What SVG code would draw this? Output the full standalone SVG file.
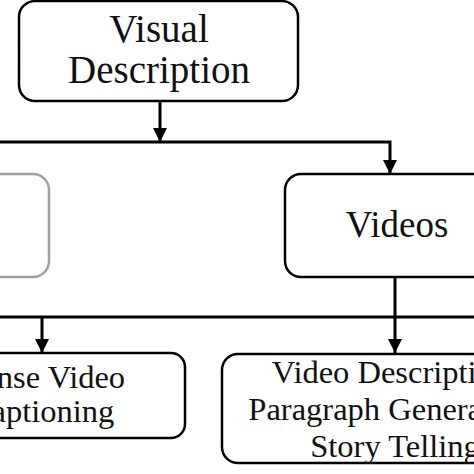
<svg xmlns="http://www.w3.org/2000/svg" width="474" height="474" viewBox="0 0 474 474">
<style>
.box{fill:#fff;stroke:#000;stroke-width:2.5}
.gray{fill:#fff;stroke:#a0a0a0;stroke-width:2.5}
.t{font-family:"Liberation Serif","Times New Roman",serif;fill:#111;text-anchor:middle}
.ln{fill:none;stroke:#000;stroke-width:3}
</style>
<defs>
<marker id="ah" markerUnits="userSpaceOnUse" markerWidth="16" markerHeight="16" refX="14" refY="7" orient="auto">
<path d="M0,0 L14,7 L0,14 Z" fill="#000"/>
</marker>
</defs>
<rect width="474" height="474" fill="#fff"/>
<g id="connectors">
<path class="ln" d="M160,101 V142" marker-end="url(#ah)"/>
<path class="ln" d="M-10,142 H390 V174" marker-end="url(#ah)"/>
<path class="ln" d="M395,277 V317"/>
<path class="ln" d="M-10,317 H484"/>
<path class="ln" d="M42,317 V353" marker-end="url(#ah)"/>
<path class="ln" d="M395,317 V353" marker-end="url(#ah)"/>
</g>
<g id="visual-description">
<rect class="box" x="19" y="1" width="279" height="100" rx="16"/>
<text class="t" x="159" y="42" font-size="39">Visual</text>
<text class="t" x="159" y="83" font-size="39">Description</text>
</g>
<g id="images">
<rect class="gray" x="-190" y="174" width="239" height="103" rx="16"/>
</g>
<g id="videos">
<rect class="box" x="285" y="174" width="225" height="103" rx="16"/>
<text class="t" x="397" y="237" font-size="37">Videos</text>
</g>
<g id="dense-video-captioning">
<rect class="box" x="-101" y="353" width="286" height="85" rx="14"/>
<text class="t" x="42" y="388" font-size="32.5">Dense Video</text>
<text class="t" x="42" y="422" font-size="32.5">Captioning</text>
</g>
<g id="video-description">
<rect class="box" x="222" y="354" width="346" height="109" rx="16"/>
<text class="t" x="395" y="383" font-size="32.5">Video Description/</text>
<text class="t" x="395" y="420" font-size="32.5">Paragraph Generation/</text>
<text class="t" x="395" y="457" font-size="32.5">Story Telling</text>
</g>
</svg>
